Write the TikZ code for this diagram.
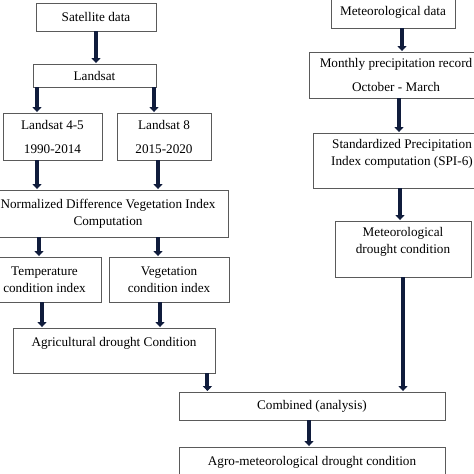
\documentclass[tikz,border=0pt]{standalone}
\usepackage{fontspec}
\setmainfont{Liberation Serif}
\usetikzlibrary{arrows.meta,positioning}
\definecolor{navy}{HTML}{101C3C}
\definecolor{edge}{HTML}{5A5A5A}

\begin{document}
\begin{tikzpicture}[x=1pt, y=-1pt,
  box/.style={draw=edge, line width=0.9pt, fill=white, align=center, inner sep=2pt, font=\fontsize{13.2}{17}\selectfont},
  arr/.style={-{Triangle[length=5pt,width=9pt]}, navy, line width=4pt, shorten >=0.5pt}
]
\useasboundingbox (0,0) rectangle (474,474);

% left column: satellite data
\node[box, minimum width=120pt, minimum height=28pt] (sat) at (96,17) {Satellite data};
\node[box, minimum width=123pt, minimum height=23pt] (landsat) at (94.5,75.5) {Landsat};
\node[box, minimum width=99pt, minimum height=47pt] (lsa) at (52.5,136.5) {Landsat 4-5\\[7pt]1990-2014};
\node[box, minimum width=94pt, minimum height=47pt] (lsb) at (164,136.5) {Landsat 8\\[7pt]2015-2020};
\node[box, minimum width=240pt, minimum height=47pt] (ndvi) at (108,213.5) {Normalized Difference Vegetation Index\\Computation};
\node[box, minimum width=113pt, minimum height=45pt] (tci) at (44.5,279.5) {Temperature\\condition index};
\node[box, minimum width=120pt, minimum height=45pt] (vci) at (169,279.5) {Vegetation\\condition index};
\node[box, minimum width=202pt, minimum height=45pt] (agri) at (114,350.5) {Agricultural drought Condition\\\mbox{}};

% right column: meteorological data
\node[box, minimum width=124pt, minimum height=32pt] (met) at (393,12) {Meteorological data};
\node[box, minimum width=174pt, minimum height=46pt] (prec) at (396,75) {Monthly precipitation record\\[7pt]October - March};
\node[box, minimum width=178pt, minimum height=55pt] (spi) at (402,160.5) {Standardized Precipitation\\Index computation (SPI-6)\\\mbox{}};
\node[box, minimum width=136pt, minimum height=56pt] (metd) at (403,249) {Meteorological\\drought condition\\\mbox{}};

% bottom
\node[box, minimum width=266pt, minimum height=28pt] (comb) at (312,406) {Combined (analysis)};
\node[box, minimum width=266pt, minimum height=45pt] (agro) at (312,469.5) {Agro-meteorological drought condition\\\mbox{}};

\draw[arr] (sat.south) -- (sat.south |- landsat.north);
\draw[arr] ([xshift=-57.5pt]landsat.south) -- ([xshift=-57.5pt]landsat.south |- lsa.north);
\draw[arr] ([xshift=59.5pt]landsat.south) -- ([xshift=59.5pt]landsat.south |- lsb.north);
\draw[arr] ([xshift=-15.5pt]lsa.south) -- ([xshift=-15.5pt]lsa.south |- ndvi.north);
\draw[arr] ([xshift=-6pt]lsb.south) -- ([xshift=-6pt]lsb.south |- ndvi.north);
\draw[arr] ([xshift=-5.5pt]tci.north |- ndvi.south) -- ([xshift=-5.5pt]tci.north);
\draw[arr] ([xshift=-11pt]vci.north |- ndvi.south) -- ([xshift=-11pt]vci.north);
\draw[arr] ([xshift=-2.5pt]tci.south) -- ([xshift=-2.5pt]tci.south |- agri.north);
\draw[arr] ([xshift=-9pt]vci.south) -- ([xshift=-9pt]vci.south |- agri.north);
\draw[arr] ([xshift=-8pt]agri.south east) -- ([xshift=-8pt]agri.south east |- comb.north);
\draw[arr] ([xshift=-3pt]comb.south) -- ([xshift=-3pt]comb.south |- agro.north);
\draw[arr] ([xshift=9pt]met.south) -- ([xshift=9pt]met.south |- prec.north);
\draw[arr] ([xshift=3pt]prec.south) -- ([xshift=3pt]prec.south |- spi.north);
\draw[arr] ([xshift=-2pt]spi.south) -- ([xshift=-2pt]spi.south |- metd.north);
\draw[arr] (metd.south) -- (metd.south |- comb.north);
\end{tikzpicture}
\end{document}
